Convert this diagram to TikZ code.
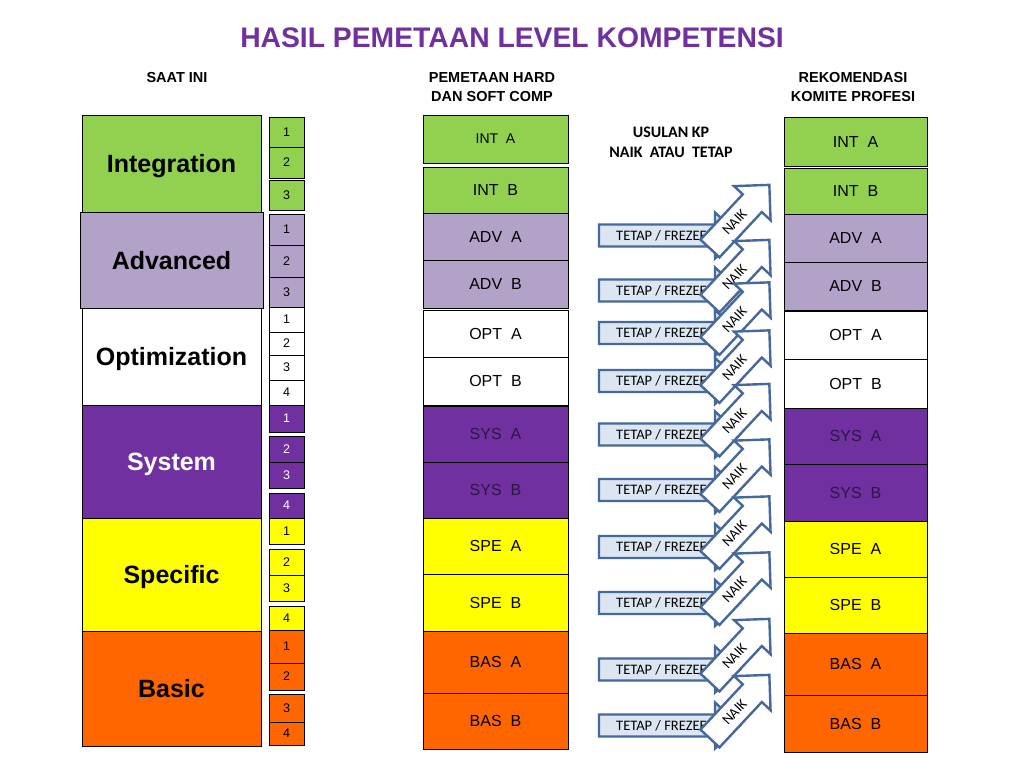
\documentclass[tikz,border=0pt]{standalone}
\usepackage{fontspec}
\setmainfont{Liberation Sans}
\newfontfamily\calfont{Carlito}
\definecolor{intgreen}{HTML}{92D050}
\definecolor{advlav}{HTML}{B3A2C7}
\definecolor{syspurple}{HTML}{7030A0}
\definecolor{sysdark}{HTML}{2B1744}
\definecolor{spey}{HTML}{FFFF00}
\definecolor{basor}{HTML}{FF6600}
\definecolor{arrowline}{HTML}{45699B}
\definecolor{arrowfill}{HTML}{DCE6F2}
\tikzset{
  lvl/.style={draw=black, line width=0.8pt, inner sep=0pt, text height=18pt, text depth=0pt, font=\fontsize{25}{30}\selectfont\bfseries},
  sub/.style={draw=black, line width=0.8pt, inner sep=0pt, minimum width=35pt, font=\fontsize{12.5}{15}\selectfont},
  cell/.style={draw=black, line width=0.8pt, inner sep=0pt},
  hdr/.style={inner sep=0pt, align=center, font=\fontsize{14.5}{19}\selectfont\bfseries},
  usul/.style={inner sep=0pt, align=center, font=\calfont\fontsize{16}{20}\selectfont\bfseries},
  tetap/.style={draw=arrowline, fill=arrowfill, line width=2.4pt, line join=miter},
  naik/.style={draw=arrowline, fill=white, line width=2.4pt, line join=miter},
  arrowtext/.style={inner sep=0pt, font=\calfont\fontsize{14.5}{16}\selectfont}
}
\begin{document}
\begin{tikzpicture}[x=1pt,y=-1pt]
\fill[white] (0,0) rectangle (1024,768);
\useasboundingbox (0,0) rectangle (1024,768);

\node[inner sep=0pt, anchor=north, text=syspurple, font=\fontsize{28.3}{34}\selectfont\bfseries] (title) at (512,28) {HASIL PEMETAAN LEVEL KOMPETENSI};

% column headers
\node[hdr, anchor=north] (saat) at (177,72) {SAAT INI};
\node[hdr, anchor=north] (hardsoft) at (492,72) {PEMETAAN HARD\\DAN SOFT COMP};
\node[hdr, anchor=north] (komite) at (853,72) {REKOMENDASI\\KOMITE PROFESI};
\node[usul, anchor=north] (usulan) at (671,127) {USULAN KP\\NAIK\ \ ATAU\ \ TETAP};

% levels now
\node[lvl, fill=intgreen, minimum width=179pt, minimum height=97pt] (integration) at (171.5,163.5) {Integration};
\node[lvl, fill=advlav, minimum width=183pt, minimum height=96pt] (advanced) at (171.5,260) {Advanced};
\node[lvl, fill=white, minimum width=179pt, minimum height=97pt] (optimization) at (171.5,356.5) {Optimization};
\node[lvl, fill=syspurple, text=white, minimum width=179pt, minimum height=113pt] (system) at (171.5,461.5) {System};
\node[lvl, fill=spey, minimum width=179pt, minimum height=113pt] (specific) at (171.5,574.5) {Specific};
\node[lvl, fill=basor, minimum width=179pt, minimum height=115pt] (basic) at (171.5,688.5) {Basic};

% sub levels
\foreach \t/\b/\lab/\col/\tc [count=\i] in {117/147/1/intgreen/black, 147/178/2/intgreen/black, 180/210/3/intgreen/black,
  214/245/1/advlav/black, 245/277/2/advlav/black, 277/307/3/advlav/black,
  307/332/1/white/black, 332/355/2/white/black, 355/380/3/white/black, 380/405/4/white/black,
  405/432/1/syspurple/white, 436/462/2/syspurple/white, 462/488/3/syspurple/white, 493/518/4/syspurple/white,
  518/544/1/spey/black, 549/575/2/spey/black, 575/601/3/spey/black, 606/630/4/spey/black,
  630/663/1/basor/black, 663/690/2/basor/black, 694/722/3/basor/black, 722/745/4/basor/black}
  \node[sub, fill=\col, text=\tc, minimum height={(\b-\t)*1pt}] (sub\i) at (286.5,{(\t+\b)/2}) {\lab};

% hard and soft mapping
\foreach \lab/\t/\b/\col/\tc/\fs [count=\i] in {INT\ \ A/115/163/intgreen/black/14, INT\ \ B/167/213/intgreen/black/16,
  ADV\ \ A/213/260/advlav/black/16, ADV\ \ B/260/308/advlav/black/16,
  OPT\ \ A/310/357/white/black/16, OPT\ \ B/357/405/white/black/16,
  SYS\ \ A/406/462/syspurple/sysdark/16, SYS\ \ B/462/518/syspurple/sysdark/16,
  SPE\ \ A/518/574/spey/black/16, SPE\ \ B/574/631/spey/black/16,
  BAS\ \ A/631/693/basor/black/16, BAS\ \ B/693/749/basor/black/16}
  \node[cell, fill=\col, text=\tc, font=\fontsize{\fs}{\fs}\selectfont, minimum width=145pt, minimum height={(\b-\t)*1pt}] (map\i) at (495.5,{(\t+\b)/2}) {\lab};

% recommendation
\foreach \lab/\t/\b/\col/\tc [count=\i] in {INT\ \ A/117/166/intgreen/black, INT\ \ B/168/214/intgreen/black,
  ADV\ \ A/214/262/advlav/black, ADV\ \ B/262/310/advlav/black,
  OPT\ \ A/311/359/white/black, OPT\ \ B/359/408/white/black,
  SYS\ \ A/408/464/syspurple/sysdark, SYS\ \ B/464/521/syspurple/sysdark,
  SPE\ \ A/521/577/spey/black, SPE\ \ B/577/633/spey/black,
  BAS\ \ A/633/695/basor/black, BAS\ \ B/695/752/basor/black}
  \node[cell, fill=\col, text=\tc, font=\fontsize{16}{16}\selectfont, minimum width=143pt, minimum height={(\b-\t)*1pt}] (rek\i) at (855.5,{(\t+\b)/2}) {\lab};

% usulan arrows
\foreach \yc [count=\r] in {235.5,290.5,333,381,434.5,490,547,603,669.5,725.5} {
  \draw[tetap] (599,\yc-11) -- (715,\yc-11) -- (715,\yc-23) -- (740,\yc) -- (715,\yc+23) -- (715,\yc+11) -- (599,\yc+11) -- cycle;
  \node[arrowtext, anchor=west] (tetap\r) at (616,\yc) {TETAP / FREZEE};
  \begin{scope}[shift={(710,\yc+13)}, rotate=47]
    \draw[naik] (0,-13) -- (62,-13) -- (62,-25) -- (87,0) -- (62,25) -- (62,13) -- (0,13) -- cycle;
    \node[arrowtext, transform shape] (naik\r) at (36,0) {NAIK};
  \end{scope}
}
\end{tikzpicture}
\end{document}
